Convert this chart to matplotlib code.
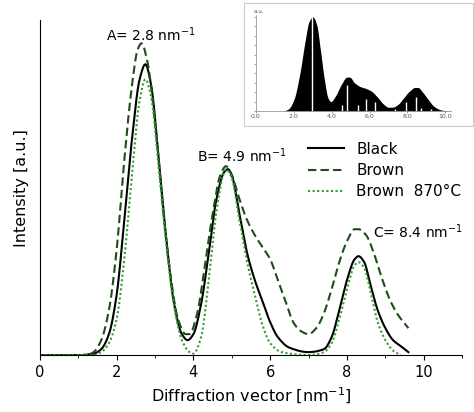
import matplotlib
matplotlib.use("Agg")
import matplotlib.pyplot as plt
import numpy as np

black_x = [0,1.0,1.4,1.6,1.8,2.0,2.2,2.4,2.6,2.75,2.9,3.1,3.3,3.5,3.7,3.85,4.0,4.2,4.4,4.6,4.8,4.9,5.0,5.2,5.4,5.6,5.8,6.0,6.2,6.5,7.0,7.4,7.6,7.8,8.0,8.2,8.3,8.45,8.6,8.8,9.0,9.2,9.4,9.6]
black_y = [0,0,0.005,0.02,0.07,0.2,0.45,0.72,0.92,0.97,0.9,0.65,0.38,0.17,0.07,0.05,0.07,0.17,0.34,0.52,0.61,0.62,0.6,0.47,0.34,0.25,0.18,0.11,0.06,0.025,0.01,0.02,0.06,0.15,0.25,0.32,0.33,0.31,0.24,0.15,0.09,0.05,0.03,0.01]
brown_x = [0,1.2,1.4,1.6,1.8,2.0,2.2,2.4,2.55,2.65,2.8,3.0,3.2,3.4,3.6,3.8,3.9,4.1,4.3,4.5,4.7,4.85,5.0,5.2,5.4,5.6,5.8,6.0,6.2,6.4,6.6,6.8,7.0,7.2,7.4,7.6,7.8,8.0,8.2,8.3,8.5,8.7,8.9,9.1,9.3,9.6]
brown_y = [0,0,0.01,0.05,0.15,0.35,0.65,0.9,1.02,1.04,0.98,0.78,0.5,0.27,0.12,0.07,0.07,0.14,0.3,0.47,0.6,0.63,0.6,0.52,0.45,0.4,0.36,0.32,0.25,0.18,0.11,0.08,0.07,0.09,0.14,0.22,0.31,0.38,0.42,0.42,0.4,0.34,0.26,0.19,0.14,0.09]
b870_x = [0,1.4,1.6,1.8,2.0,2.2,2.4,2.6,2.75,2.9,3.1,3.3,3.5,3.7,3.9,4.0,4.2,4.4,4.6,4.8,4.85,5.0,5.2,5.4,5.6,5.8,6.0,6.3,7.0,7.4,7.6,7.8,8.0,8.2,8.3,8.45,8.6,8.8,9.0,9.2,9.4]
b870_y = [0,0,0.01,0.04,0.12,0.32,0.6,0.85,0.92,0.86,0.62,0.36,0.16,0.05,0.01,0.005,0.06,0.25,0.48,0.61,0.62,0.59,0.45,0.31,0.2,0.1,0.04,0.01,0,0.01,0.04,0.12,0.22,0.3,0.31,0.29,0.22,0.11,0.05,0.015,0]

inset_x = [0,1.4,1.7,2.0,2.3,2.6,2.8,3.0,3.2,3.4,3.6,3.8,3.95,4.2,4.5,4.8,4.95,5.2,5.5,5.8,6.1,6.4,6.7,7.0,7.2,7.5,7.8,8.1,8.4,8.55,8.8,9.1,9.4,9.8,10.3]
inset_y = [0,0,0.02,0.12,0.38,0.75,0.95,1.0,0.92,0.65,0.35,0.14,0.1,0.16,0.28,0.36,0.36,0.3,0.26,0.24,0.21,0.15,0.08,0.04,0.04,0.07,0.14,0.21,0.25,0.25,0.2,0.12,0.05,0.01,0]
stick_x = [2.95,4.55,4.8,5.4,5.8,6.3,7.35,7.9,8.45,8.7,9.25]
stick_y = [1.0,0.06,0.28,0.06,0.13,0.1,0.02,0.1,0.15,0.03,0.02]


def smooth(x, y, n=600):
    """Monotone cubic (PCHIP-style) curve through the given points, for drawing."""
    x = np.asarray(x, float); y = np.asarray(y, float)
    h = np.diff(x); d = np.diff(y) / h
    m = np.zeros_like(y)
    for k in range(1, len(x) - 1):
        if d[k-1] * d[k] > 0:
            w1 = 2*h[k] + h[k-1]; w2 = h[k] + 2*h[k-1]
            m[k] = (w1 + w2) / (w1/d[k-1] + w2/d[k])
    m[0] = d[0]; m[-1] = d[-1]
    xs = np.linspace(x[0], x[-1], n)
    i = np.clip(np.searchsorted(x, xs) - 1, 0, len(h) - 1)
    t = (xs - x[i]) / h[i]
    h00 = 2*t**3 - 3*t**2 + 1; h10 = t**3 - 2*t**2 + t
    h01 = -2*t**3 + 3*t**2; h11 = t**3 - t**2
    ys = h00*y[i] + h10*h[i]*m[i] + h01*y[i+1] + h11*h[i]*m[i+1]
    return xs, ys


green = "#2e9e2e"
brown = "#1f4d1a"

fig = plt.figure(figsize=(4.74, 4.12), dpi=100)
ax = fig.add_axes([0.084, 0.138, 0.891, 0.813])
ax.plot(*smooth(black_x, black_y), color="black", lw=1.5, label="Black")
ax.plot(*smooth(brown_x, brown_y), color=brown, lw=1.5, ls=(0, (4, 2)), label="Brown")
ax.plot(*smooth(b870_x, b870_y), color=green, lw=1.5, ls=(0, (1, 1.2)), label="Brown  870°C")
ax.set_xlim(0, 11)
ax.set_ylim(0, 1.117)
ax.spines["top"].set_visible(False)
ax.spines["right"].set_visible(False)
ax.set_yticks([])
ax.set_xticks([0, 2, 4, 6, 8, 10])
ax.set_xticks([1, 3, 5, 7, 9, 11], minor=True)
ax.tick_params(axis="x", direction="out", labelsize=10.5)
ax.set_xlabel("Diffraction vector [nm$^{-1}$]", fontsize=11.5)
ax.set_ylabel("Intensity [a.u.]", fontsize=11.5, labelpad=8)
ax.text(1.72, 1.07, "A= 2.8 nm$^{-1}$", ha="left", va="center", fontsize=10)
ax.text(4.1, 0.665, "B= 4.9 nm$^{-1}$", ha="left", va="center", fontsize=10)
ax.text(8.67, 0.41, "C= 8.4 nm$^{-1}$", ha="left", va="center", fontsize=10)
ax.legend(loc="upper right", bbox_to_anchor=(1.02, 0.665), frameon=False, fontsize=11,
          handlelength=2.4, labelspacing=0.42, borderaxespad=0.2)

# inset frame
frame = fig.add_axes([244/474, 1-126/412, 229/474, 123/412])
frame.set_xticks([]); frame.set_yticks([])
for s in frame.spines.values():
    s.set_color("#cccccc")
ins = fig.add_axes([256/474, 1-111/412, 195/474, 96/412])
ins.fill_between(*smooth(inset_x, inset_y), color="black", lw=0)
ins.vlines(stick_x, 0, stick_y, color="white", lw=1)
ins.set_xlim(0, 10.3)
ins.set_ylim(0, 1.02)
ins.spines["top"].set_visible(False)
ins.spines["right"].set_visible(False)
for s in ["left", "bottom"]:
    ins.spines[s].set_color("#999999")
    ins.spines[s].set_linewidth(0.6)
ins.set_xticks([0, 2, 4, 6, 8, 10])
ins.set_xticklabels(["0.0", "2.0", "4.0", "6.0", "8.0", "10.0"])
ins.set_yticks(np.linspace(0, 1, 11))
ins.set_yticklabels([])
ins.tick_params(labelsize=4.5, length=1.5, width=0.4, colors="#555555", pad=1)
ins.text(-0.1, 1.04, "a.u.", fontsize=4, color="#555555", transform=ins.transData)
fig.savefig("out.png", dpi=100)
